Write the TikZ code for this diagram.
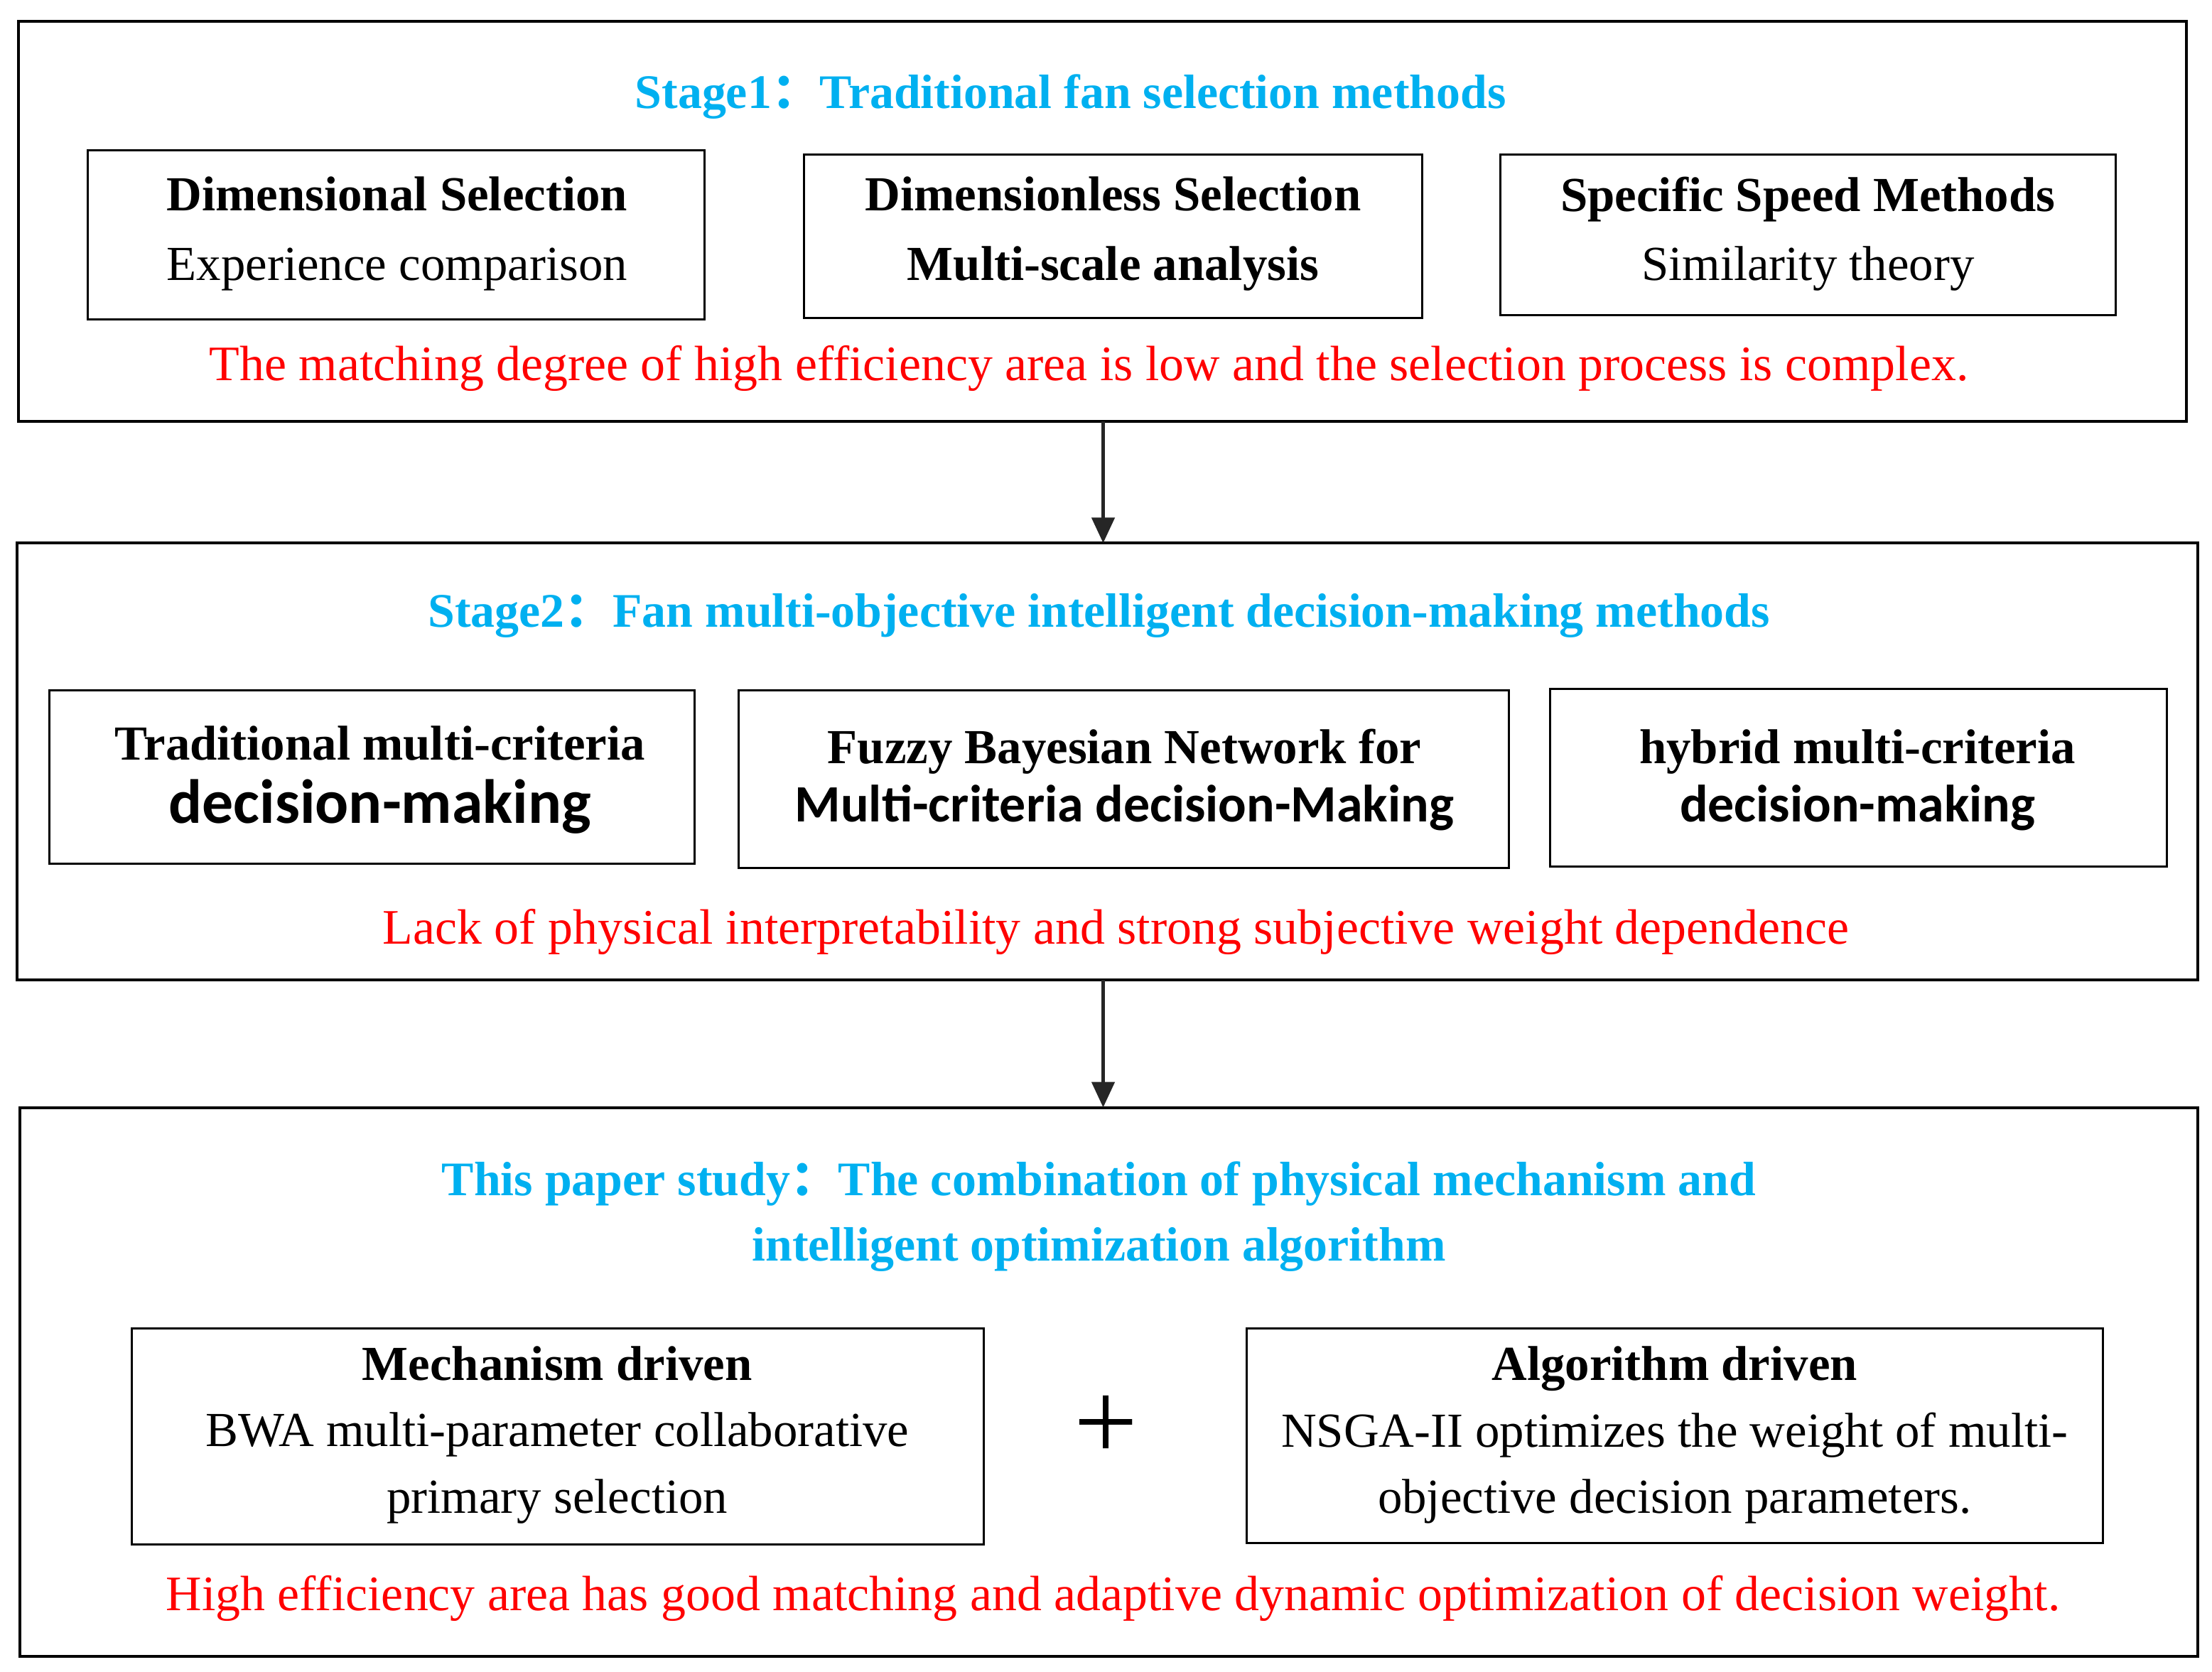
\documentclass[tikz,border=0pt]{standalone}
\usepackage{fontspec}
\setmainfont{Liberation Serif}
\newfontfamily\calfont{Carlito}
\newfontfamily\cjkfont{Noto Sans CJK SC}
\newcommand{\fwc}{{\cjkfont\bfseries ：}}
\usetikzlibrary{arrows.meta}
\definecolor{tblue}{RGB}{0,176,240}
\begin{document}
\begin{tikzpicture}[x=1pt,y=-1pt,
 frame/.style={draw,line width=2pt},
 sub/.style={draw,line width=1.5pt},
 txt/.style={font=\fontsize{34.5}{49}\selectfont,align=center},
 txtb/.style={font=\fontsize{34.5}{47}\selectfont,align=center},
 ttl/.style={font=\fontsize{34}{46}\selectfont\bfseries,text=tblue,align=center},
 red/.style={font=\fontsize{35}{40}\selectfont,text=red},
 arr/.style={line width=2.5pt,draw=black!85,-{Triangle[length=18pt,width=16pt]}}]
\useasboundingbox (0,0) rectangle (1560,1179);
\draw[frame] (13,15) rectangle (1542,297);
\node[coordinate] (b1b) at (778,297) {};
\node[ttl] (t1) at (755,68) {Stage1\fwc Traditional fan selection methods};
\draw[sub] (62,106) rectangle (497,225);
\node[txt] (s11) at (280,165) {\textbf{Dimensional Selection}\\Experience comparison};
\draw[sub] (567,109) rectangle (1003,224);
\node[txt] (s12) at (785,165) {\textbf{Dimensionless Selection}\\\textbf{Multi-scale analysis}};
\draw[sub] (1058,109) rectangle (1492,222);
\node[txt] (s13) at (1275,165) {\textbf{Specific Speed Methods}\\Similarity theory};
\node[red] (r1) at (768,260) {The matching degree of high efficiency area is low and the selection process is complex.};

\draw[frame] (12,383) rectangle (1550,691);
\node[coordinate] (b2t) at (778,383) {};
\node[coordinate] (b2b) at (778,691) {};
\node[ttl] (t2) at (775,434) {Stage2\fwc Fan multi-objective intelligent decision-making methods};
\draw[sub] (35,487) rectangle (490,609);
\node[txt] (s21) at (268,550) {\textbf{Traditional multi-criteria}\\[-4pt]{\calfont\bfseries\fontsize{44}{48}\selectfont decision-making}};
\draw[sub] (521,487) rectangle (1064,612);
\node[txt] (s22) at (793,550) {\textbf{Fuzzy Bayesian Network for}\\[-8pt]{\calfont\bfseries\fontsize{37}{40}\selectfont Multi-criteria decision-Making}};
\draw[sub] (1093,486) rectangle (1528,611);
\node[txt] (s23) at (1310,550) {\textbf{hybrid multi-criteria}\\[-8pt]{\calfont\bfseries\fontsize{37}{40}\selectfont decision-making}};
\node[red] (r2) at (787,657) {Lack of physical interpretability and strong subjective weight dependence};

\draw[frame] (14,781) rectangle (1550,1168);
\node[coordinate] (b3t) at (778,781) {};
\node[ttl] (t3) at (775,858) {This paper study\fwc The combination of physical mechanism and\\intelligent optimization algorithm};
\draw[sub] (93,937) rectangle (694,1089);
\node[txtb] (m) at (393,1012) {\textbf{Mechanism driven}\\BWA multi-parameter collaborative\\primary selection};
\draw[sub] (879,937) rectangle (1483,1088);
\node[txtb] (a) at (1181,1012) {\textbf{Algorithm driven}\\NSGA-II optimizes the weight of multi-\\objective decision parameters.};
\node[font=\fontsize{80}{80}\selectfont] (plus) at (780,1007) {+};
\node[red] (r3) at (785,1127) {High efficiency area has good matching and adaptive dynamic optimization of decision weight.};

\draw[arr] (b1b) -- (b2t);
\draw[arr] (b2b) -- (b3t);
\end{tikzpicture}
\end{document}
